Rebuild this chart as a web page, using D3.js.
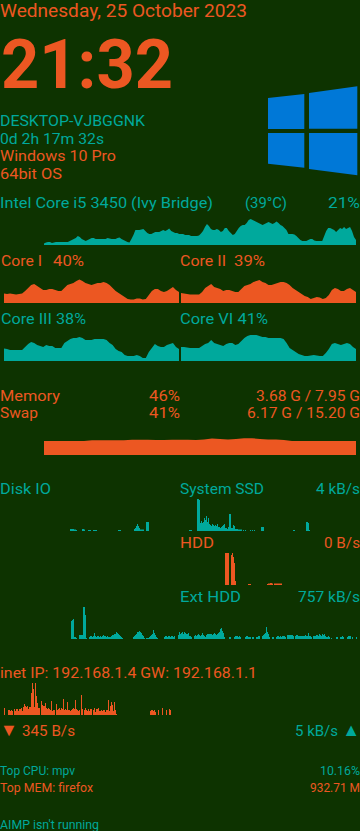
<!DOCTYPE html>
<html>
<head>
<meta charset="utf-8">
<title>Conky</title>
<script src="https://cdn.jsdelivr.net/npm/d3@7"></script>
<style>
  html, body { margin: 0; padding: 0; background: #0d3300; overflow: hidden; }
  svg { display: block; }
  text { font-family: Roboto, sans-serif; }
</style>
</head>
<body>
<div id="chart"></div>
<script>
// sampled history, newest on the right
const cpuTotal = [1.5,2.5,3,3,2,2.5,3,3,3,3,3,3,3,4,5,6,7,9,8,6,5,4,5,6,7,7,6,6,6,6,6,6,7,6.5,6,6,6,7,7.5,6,5,4,3,2.5,6,10,15,15,15,15.5,16,14,12,11,11,12,13,13,13,14,15,14,15,16.5,14,13,12,12,11,11,11,10,10,10,9,9,9,9,9.5,11.5,14,18,21,19,16,15,15,16,15,13,14,17,17,14,12,10,11,14,17,19,20,20,22,25,26,25,24,23,22,21,20,21,22,23,22,21,22,23.5,22,20,19,17,15,11,11,11,10.5,9,7,5,4,4,4,5,6,6,4.5,4,4,4,4,9,14,17,17,16,15,13,15,17,16,18,16,17,18,14,8,5];
const core1 = [9.5,9,9.5,9,8.5,9,9.5,12,15,18,19,17,15,13,13,14,14,13,12,12,15,18,19,20,22,23.5,22,20,19,18,19,20,20,21,20,18,15,12,10,8,6,4,3.5,3.5,4.5,4.5,3.5,4,8,12,14,14,12,11,12,14,16,13,11];
const core2 = [10,9.5,9,8.5,8.5,8.5,8.5,11,15,17,19,16,15,14,12,13,13,12,11,11,14,17,18,19,21,22,23,21,20,18,18,19,20,21,21,20,18,15,13,11,9,7,6,4,5,6,5.5,4,5,8,13,15,14,12,12,14,15,13,11];
const core3 = [12.5,12,11,11,11,11,11,14,17,19,18,16,15,14,16,15,15,13,13,13,18,20,22,23,23,24,23,21,21,21,22,22,22,22,21,18,16,12,10,9,6,5,5,5,6,5,3,3,9,13,17,15,14,14,16,17,18,14,12];
const core4 = [14,14,13.5,13,13,13,13,15,17,18,21,18,17,16,15,17,18,18,16,17,20,23,25,26,26,26,25,24,24,23,23,23,23,23,22,18,13,11,9,7,6,5,5,5.5,6,5.5,5,5,8,12,17,18,17,16,17,18,17,14,12];
const memSwap = [14,14,14,14,14,14,14.7,14.7,14.7,14.7,14.7,15.2,15.2,15.2,15,15,15.2,15.2,15.2,15,15.5,16.5,16,15.5,16,16.8,16.8,16,15.5,15.5,15,14,14,14,14,14,14,14,14,14];

// bursty series: [sample, value] pairs, anything missing is idle
const ssdIO = [[70,2],[71,2],[72,2],[73,2],[74,1.5],[75,1.5],[76,1],[82,2],[83,2],[84,1.5],[88,1],[89,1],[90,1],[93,1],[94,1],[95,1],[96,1],[118,1],[119,1],[120,1],[134,2],[135,3],[136,5],[137,7],[138,5],[139,3],[140,1.5],[141,1.5],[142,1.5],[143,1.5],[146,9],[147,9],[148,9],[189,1],[190,1],[191,1],[197,32],[198,32],[199,31],[200,8],[201,10],[202,8],[203,9],[204,13],[205,11],[206,15],[207,9],[208,13],[209,7],[210,6],[211,5],[212,7],[213,6],[214,5],[215,6],[216,5],[217,7],[218,4],[219,4],[220,3],[221,4],[222,5],[223,6],[224,7],[225,3],[226,3],[227,2],[228,4],[229,17],[230,17],[231,3],[232,3],[233,6],[234,5],[235,2],[236,2],[237,2],[238,1.5],[239,1.5],[240,1.5],[241,1.5],[243,1],[245,1],[250,1],[252,1],[254,1],[261,4],[262,4],[263,4],[293,1],[294,1],[306,9],[307,9],[308,8],[309,1]];
const hddIO = [[225,32],[226,32],[227,32],[228,32],[231,30],[232,32],[233,28],[234,22],[235,4],[248,1],[249,1],[250,1],[267,1],[268,1.5],[269,1.5],[270,2],[271,2],[272,1.5],[274,1.5],[275,1.5],[276,1.5],[277,1.5],[278,1.5],[279,1.5],[280,1.5],[281,1.5]];
const extIO = [[71,18],[72,19],[73,20],[74,2],[75,2],[76,1],[79,4],[80,4],[81,4],[82,4],[83,32],[84,32],[85,24],[86,1],[89,2],[90,3],[91,3],[92,2],[93,3],[94,6],[95,3],[96,2],[97,3],[98,3],[99,2],[100,3],[101,2],[102,3],[103,4],[104,3],[105,3],[106,2],[107,3],[108,2],[109,2],[110,2],[111,3],[112,4],[113,4],[114,5],[115,5],[116,7],[117,6],[118,5],[119,4],[120,3],[121,2],[122,1],[133,2],[134,3],[135,4],[136,5],[137,7],[138,7],[139,8],[140,7],[141,6],[142,4],[143,3],[144,1],[146,1],[147,1],[148,1],[149,2],[150,3],[151,4],[152,5],[153,9],[154,6],[155,4],[156,2],[157,1],[164,2],[165,3],[166,3],[167,2],[168,3],[169,3],[170,2],[171,3],[172,3],[173,2],[174,3],[178,4],[179,7],[180,5],[181,6],[182,7],[183,5],[184,7],[185,6],[186,5],[187,5],[188,6],[189,3],[190,3],[191,2],[194,3],[195,4],[196,3],[197,4],[198,5],[199,4],[200,3],[201,4],[202,6],[203,4],[204,3],[205,2],[206,4],[207,5],[208,5],[209,5],[210,5],[211,5],[212,4],[213,5],[214,6],[215,5],[216,4],[217,5],[218,6],[219,7],[220,10],[221,11],[222,8],[223,6],[224,2],[229,2],[230,2],[234,2],[235,3],[236,3],[237,3],[238,2],[239,3],[240,2],[245,2],[246,3],[247,3],[248,2],[249,2],[250,2],[252,2],[253,2],[256,2],[257,2],[258,3],[259,3],[262,3],[263,4],[264,5],[265,6],[266,12],[267,7],[268,5],[269,2],[272,2],[273,2],[276,2],[277,3],[278,3],[279,2],[280,3],[281,2],[282,3],[283,3],[284,3],[285,2],[287,4],[288,4],[289,4],[290,4],[291,4],[292,4],[293,3],[295,3],[296,4],[297,4],[298,3],[299,3],[300,3],[301,3],[302,3],[303,3],[304,3],[305,4],[306,3],[307,3],[308,6],[309,3],[310,3],[311,2],[313,3],[314,3],[315,3],[316,4],[317,4],[318,3],[319,5],[320,4],[321,3],[322,5],[323,4],[324,5],[325,3],[326,2],[327,2],[328,3],[329,2],[331,1],[336,2],[337,2],[340,2],[341,2],[342,3],[343,2],[347,2],[348,3],[349,3],[350,3],[352,2],[356,2]];
const netDown = [[4,7],[8,5],[9,5],[10,4],[11,5],[12,4],[14,6],[15,4],[16,6],[17,6],[18,4],[19,6],[20,6],[21,7],[22,4],[23,8],[24,11],[25,9],[26,8],[27,9],[28,6],[29,8],[30,8],[31,22],[32,32],[33,26],[34,8],[35,32],[36,19],[37,12],[38,7],[39,7],[41,14],[42,10],[43,9],[44,9],[45,12],[46,7],[47,6],[48,7],[49,6],[50,5],[51,14],[52,4],[53,5],[54,5],[56,11],[57,5],[58,6],[59,7],[60,5],[61,7],[62,6],[63,16],[64,5],[65,6],[66,5],[67,13],[68,5],[69,5],[70,4],[71,5],[72,6],[73,7],[74,6],[75,15],[76,6],[77,5],[78,4],[79,5],[81,20],[82,6],[84,5],[85,7],[86,5],[87,4],[88,6],[89,4],[90,6],[91,6],[93,5],[94,7],[95,3],[96,6],[97,6],[98,7],[99,4],[100,4],[101,5],[102,4],[103,5],[104,5],[105,3],[106,5],[107,5],[108,15],[109,4],[110,9],[111,13],[112,10],[113,4],[114,13],[115,5],[116,1],[150,4],[151,5],[152,5],[153,4],[154,5],[155,3],[158,5],[162,7],[166,5],[169,6],[170,5]];

const orange = '#ec5722';
const teal = '#00a99c';

const width = 360, height = 831;
const svg = d3.select('#chart').append('svg')
    .attr('width', width)
    .attr('height', height);

svg.append('rect')
    .attr('width', width)
    .attr('height', height)
    .attr('fill', '#0d3300');

function label(x, y, str, color, size, anchor, fitWidth) {
  const t = svg.append('text')
      .attr('x', x)
      .attr('y', y)
      .attr('fill', color)
      .attr('font-size', size)
      .attr('text-anchor', anchor || 'start')
      .text(str);
  if (fitWidth) {
    t.attr('textLength', fitWidth).attr('lengthAdjust', 'spacingAndGlyphs');
  }
  return t;
}

// filled history graph, one vertex per sample
function areaGraph(values, x0, x1, bottom, maxVal, color) {
  const x = d3.scaleLinear().domain([0, values.length - 1]).range([x0, x1]);
  const y = d3.scaleLinear().domain([0, maxVal]).range([bottom, bottom - maxVal]);
  const area = d3.area()
      .x((d, i) => x(i))
      .y0(bottom)
      .y1(d => y(d));
  svg.append('path')
      .attr('d', area(values))
      .attr('fill', color);
}

// spiky graph, one bar per sample
function barGraph(samples, bottom, maxVal, color) {
  const x = d3.scaleLinear().domain([0, 360]).range([0, 360]);
  const y = d3.scaleLinear().domain([0, maxVal]).range([bottom, bottom - maxVal]);
  svg.append('g').selectAll('rect')
      .data(samples)
    .join('rect')
      .attr('x', d => x(d[0]))
      .attr('y', d => y(d[1]))
      .attr('width', 1)
      .attr('height', d => bottom - y(d[1]))
      .attr('fill', color);
}

// header
label(0, 17, 'Wednesday, 25 October 2023', orange, 18, 'start', 247);
label(1, 88, '21:32', orange, 68, 'start', 172).attr('font-weight', 700);
label(0, 126, 'DESKTOP-VJBGGNK', teal, 15, 'start', 145);
label(0, 143.5, '0d 2h 17m 32s', teal, 15, 'start', 104);
label(0, 161, 'Windows 10 Pro', orange, 15, 'start', 116);
label(0, 179, '64bit OS', orange, 15, 'start', 62);

// windows logo
const logoPanes = [
  [[268, 98], [304.3, 94], [304.3, 129], [268, 129]],
  [[309, 93], [357.3, 86.3], [357.3, 128.7], [309, 128.7]],
  [[268, 133], [304.3, 133], [304.3, 167.7], [268, 163.7]],
  [[309, 133], [357.3, 133], [357.3, 175.3], [309, 169]]
];
svg.append('g').selectAll('polygon')
    .data(logoPanes)
  .join('polygon')
    .attr('points', d => d.join(' '))
    .attr('fill', '#0078d7');

// cpu
label(0, 208, 'Intel Core i5 3450 (Ivy Bridge)', teal, 15, 'start', 213);
label(245, 208, '(39°C)', teal, 15, 'start', 42);
label(360, 208, '21%', teal, 15, 'end', 32);
areaGraph(cpuTotal, 44, 356, 245, 26, teal);

label(1, 266, 'Core I', orange, 15, 'start', 41);
label(53, 266, '40%', orange, 15, 'start', 31);
label(180, 266, 'Core II', orange, 15, 'start', 46);
label(234, 266, '39%', orange, 15, 'start', 31);
areaGraph(core1, 4, 179, 303, 24, orange);
areaGraph(core2, 181, 356, 303, 24, orange);

label(1, 324, 'Core III 38%', teal, 15, 'start', 85);
label(180, 324, 'Core VI 41%', teal, 15, 'start', 88);
areaGraph(core3, 4, 179, 361, 26, teal);
areaGraph(core4, 181, 356, 361, 26, teal);

// memory
label(0, 400.5, 'Memory', orange, 15, 'start', 60);
label(180, 400.5, '46%', orange, 15, 'end', 31);
label(360, 400.5, '3.68 G / 7.95 G', orange, 15, 'end', 104);
label(0, 418, 'Swap', orange, 15, 'start', 38);
label(180, 418, '41%', orange, 15, 'end', 31);
label(360, 418, '6.17 G / 15.20 G', orange, 15, 'end', 113);
areaGraph(memSwap, 44, 356, 455, 17, orange);

// disks
label(0, 493.5, 'Disk IO', teal, 15, 'start', 51);
label(180, 493.5, 'System SSD', teal, 15, 'start', 84);
label(360, 493.5, '4 kB/s', teal, 15, 'end', 44);
barGraph(ssdIO, 531, 32, teal);
label(180, 548, 'HDD', orange, 15, 'start', 34);
label(360, 548, '0 B/s', orange, 15, 'end', 36);
barGraph(hddIO, 585, 32, orange);
label(180, 602, 'Ext HDD', teal, 15, 'start', 61);
label(360, 602, '757 kB/s', teal, 15, 'end', 62);
barGraph(extIO, 639, 32, teal);

// network
label(0, 678, 'inet IP: 192.168.1.4 GW: 192.168.1.1', orange, 15, 'start', 257);
barGraph(netDown, 715, 32, orange);
label(0, 736, '▼', orange, 18).attr('font-family', 'DejaVu Sans');
label(22, 735.5, '345 B/s', orange, 15, 'start', 53);
label(338, 735.5, '5 kB/s', teal, 15, 'end', 43);
label(360, 736, '▲', teal, 18, 'end').attr('font-family', 'DejaVu Sans');

// processes
label(0, 775, 'Top CPU: mpv', teal, 12, 'start', 75);
label(360, 775, '10.16%', teal, 12, 'end', 40);
label(0, 792, 'Top MEM: firefox', orange, 12, 'start', 93);
label(360, 792, '932.71 M', orange, 12, 'end', 50);
label(0, 829, "AIMP isn't running", teal, 12, 'start', 99);
</script>
</body>
</html>
